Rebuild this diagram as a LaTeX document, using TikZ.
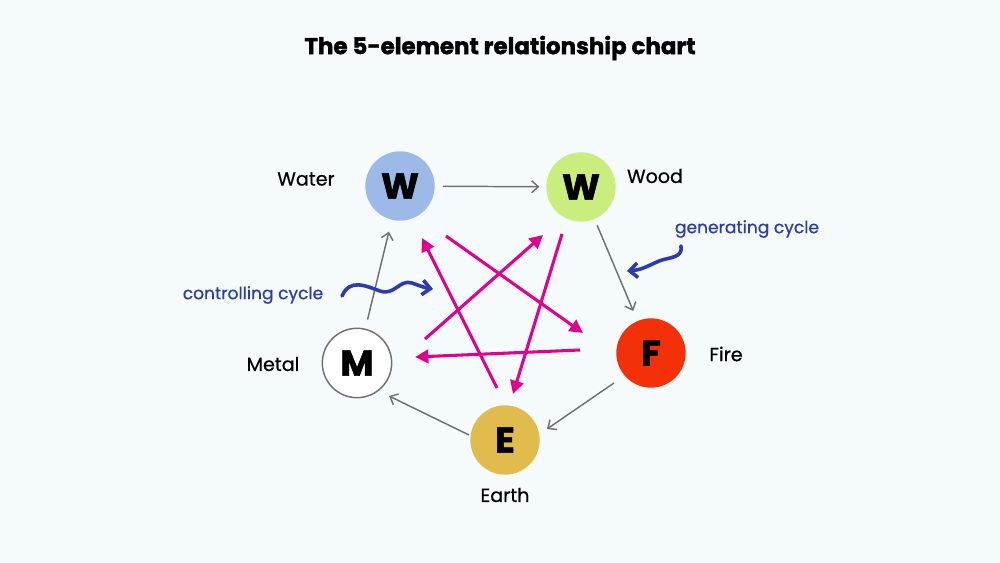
\documentclass[tikz,border=0pt]{standalone}
\usepackage{fontspec}
\setmainfont{Poppins}
\newfontfamily\labelfont{Poppins}[FakeBold=0.6]
\newfontfamily\heavyfont{Poppins}[BoldFeatures={FakeBold=1.6}]
\usepackage{xcolor}
\usepackage{tikz}
\usetikzlibrary{arrows.meta,calc}

\begin{document}
\begin{tikzpicture}[x=0.75pt,y=0.75pt,yscale=-1,xscale=1]
\tikzset{
  elem/.style={circle,minimum size=52pt,inner sep=0pt,font=\heavyfont\fontsize{27}{27}\selectfont\bfseries},
  lbl/.style={font=\labelfont\fontsize{14.3}{17}\selectfont},
  gen/.style={draw={rgb, 255:red, 112; green, 112; blue, 112}, line width=1.1pt, -{Straight Barb[length=5pt,width=9pt]}},
  ctrl/.style={draw={rgb, 255:red, 228; green, 0; blue, 140}, line width=2.3pt, -{Triangle[length=10pt,width=10pt]}},
  note/.style={color={rgb, 255:red, 42; green, 60; blue, 176}, font=\labelfont\fontsize{12.8}{15}\selectfont},
  wiggle/.style={draw={rgb, 255:red, 42; green, 60; blue, 176}, line width=2.7pt, line cap=round, -{Straight Barb[length=6pt,width=11pt]}}
}

% background
\useasboundingbox (0,0) rectangle (1000,563);
\fill [color={rgb, 255:red, 245; green, 251; blue, 252 }] (0,0) rectangle (1000,563);

\node (title) at (500,48) {\heavyfont\fontsize{17.2}{21}\selectfont\bfseries The 5-element relationship chart};

% elements
\node [elem, fill={rgb, 255:red, 157; green, 185; blue, 232 }] (water) at (400,186) {W};
\node [elem, fill={rgb, 255:red, 202; green, 238; blue, 126 }] (wood) at (581,187) {W};
\node [elem, fill={rgb, 255:red, 243; green, 48; blue, 8 }] (fire) at (651,353) {F};
\node [elem, fill={rgb, 255:red, 226; green, 187; blue, 77 }] (earth) at (505,440) {E};
\node [elem, fill=white, draw={rgb, 255:red, 112; green, 112; blue, 112 }, line width=1.1pt] (metal) at (357,363) {M};

\node [lbl] (lwater) at (306,179) {Water};
\node [lbl] (lwood) at (655,176) {Wood};
\node [lbl] (lfire) at (726,354) {Fire};
\node [lbl] (lmetal) at (273,364) {Metal};
\node [lbl] (learth) at (505,495) {Earth};

% generating cycle
\draw [gen, shorten <=6pt, shorten >=5pt] (water) -- (wood);
\draw [gen, shorten <=5pt, shorten >=8pt] (wood) -- (fire);
\draw [gen] ($(fire)+(-37,30)$) -- ($(earth)+(42,-11)$);
\draw [gen] ($(earth)+(-36,-5)$) -- ($(metal)+(32,33)$);
\draw [gen, shorten <=7pt, shorten >=9pt] (metal) -- (water);

% controlling cycle
\draw [ctrl] ($(water)+(46,50)$) -- ($(fire)+(-68,-20)$);
\draw [ctrl] ($(fire)+(-71,-3)$) -- ($(metal)+(58,-6)$);
\draw [ctrl] ($(metal)+(68,-24)$) -- ($(wood)+(-38,48)$);
\draw [ctrl] ($(wood)+(-19,47)$) -- ($(earth)+(8,-46)$);
\draw [ctrl] ($(earth)+(-8,-52)$) -- ($(water)+(22,52)$);

% notes
\node [note] (ctrltxt) at (253,295) {controlling cycle};
\node [note] (gentxt) at (747,229) {generating cycle};

\coordinate (cw0) at (342,296);
\coordinate (cw1) at (433,289);
\coordinate (gw0) at (681,246);
\coordinate (gw1) at (627,271);
\draw [wiggle] (cw0) .. controls (350,278) and (366,286) .. (380,291) .. controls (395,296) and (399,279) .. (412,283) .. controls (420,286) and (426,288) .. (cw1);
\draw [wiggle] (gw0) .. controls (683,258) and (670,257) .. (659,261) .. controls (648,266) and (641,270) .. (gw1);
\end{tikzpicture}
\end{document}
